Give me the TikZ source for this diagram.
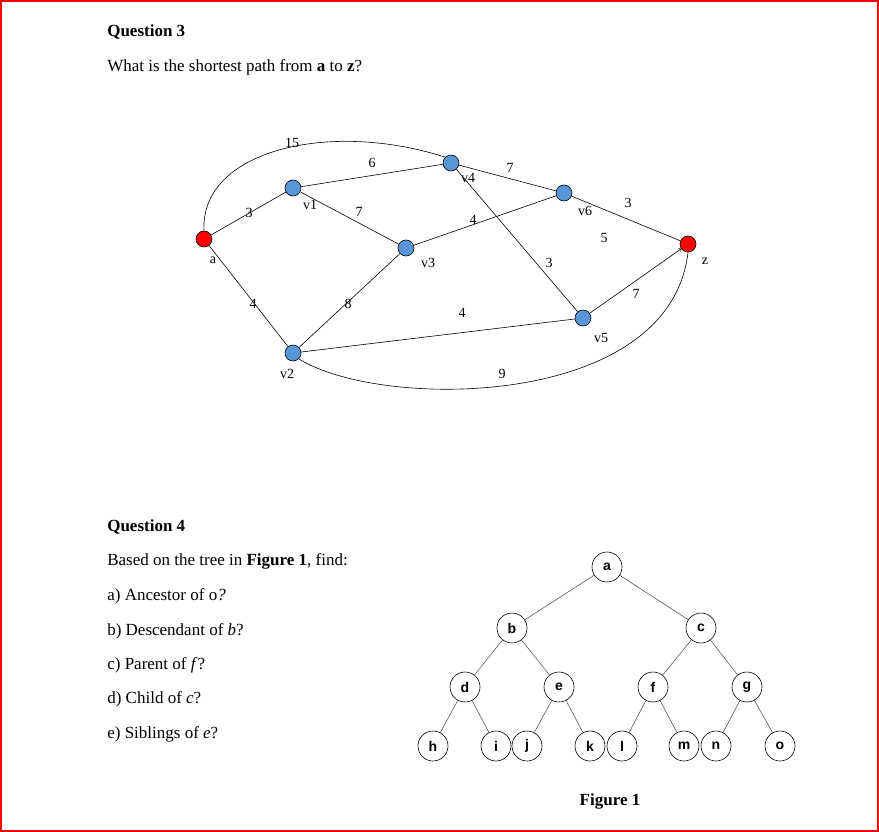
\documentclass[tikz,border=0pt]{standalone}
\usepackage{fontspec}
\setmainfont{Liberation Serif}
\setsansfont{Liberation Sans}
\definecolor{nodeblue}{RGB}{88,150,215}
\begin{document}
\begin{tikzpicture}[x=1pt,y=-1pt,line width=0.6pt,
  gv/.style={circle,draw,fill=nodeblue,minimum size=16pt,inner sep=0pt},
  rv/.style={circle,draw,fill=red,minimum size=16pt,inner sep=0pt},
  tv/.style={circle,draw,minimum size=30pt,inner sep=0pt,font=\sffamily\bfseries\fontsize{14}{14}\selectfont},
  lb/.style={font=\fontsize{14}{14}\selectfont,inner sep=0pt},
  tx/.style={anchor=west,inner sep=0pt,font=\fontsize{17}{17}\selectfont}]
\path[use as bounding box] (0,0) rectangle (879,832);
\draw[red,line width=1.5pt] (1,1) rectangle (878,831);
\node[tx] (q3) at (107,32) {\textbf{Question 3}};
\node[tx] (t3) at (107,67) {What is the shortest path from \textbf{a} to \textbf{z}?};
\node[tx] (q4) at (107,527) {\textbf{Question 4}};
\node[tx] (t4) at (107,561) {Based on the tree in \textbf{Figure 1}, find:};
\node[tx] (qa) at (107,596) {a) Ancestor of o\textit{?}};
\node[tx] (qb) at (107,631) {b) Descendant of \textit{b}?};
\node[tx] (qc) at (107,665) {c) Parent of \textit{f}?};
\node[tx] (qd) at (107,699) {d) Child of \textit{c}?};
\node[tx] (qe) at (107,734) {e) Siblings of \textit{e}?};
\node[tx,anchor=center] (fig) at (610,801) {\textbf{Figure 1}};
% graph
\node[rv] (a) at (204,239) {};
\node[gv] (v1) at (293,188) {};
\node[gv] (v4) at (451,163) {};
\node[gv] (v6) at (564,193) {};
\node[rv] (z) at (688,244) {};
\node[gv] (v3) at (406,248) {};
\node[gv] (v2) at (293,353) {};
\node[gv] (v5) at (583,318) {};
\draw (a) -- (v1); \draw (a) -- (v2); \draw (v1) -- (v4); \draw (v1) -- (v3);
\draw (v4) -- (v6); \draw (v4) -- (v5); \draw (v3) -- (v6); \draw (v3) -- (v2);
\draw (v6) -- (z); \draw (v2) -- (v5); \draw[->] (v5) -- (z);
\draw (a.north) .. controls (200,150) and (330,120) .. (v4.north west);
\draw (v2.south east) .. controls (380,410) and (670,410) .. (z.south);
\foreach \n/\x/\y/\t in {la/213/260/a,l1/310/205/v1,l4/468/178/v4,l6/585/211/v6,lz/705/261/z,l3/428/263/v3,l2/287/374/v2,l5/601/338/v5,
  w1/292/143/15,w2/372/163/6,w3/510/168/7,w4/249/213/3,w5/359/212/7,w6/473/220/4,w7/628/203/3,w8/604/238/5,w9/549/263/3,w10/253/304/4,w11/348/304/8,w12/462/313/4,w13/636/294/7,w14/502/374/9}
  \node[lb] (\n) at (\x,\y) {\t};
% tree
\foreach \n/\x/\y in {a/607/567,b/512/628,c/701/628,d/465/687,e/559/687,f/653/687,g/747/687,h/433/746,i/496/746,j/527/746,k/590/746,l/622/746,m/684/746,n/716/746,o/780/746}
  \node[tv] (t\n) at (\x,\y) {\n};
\foreach \p/\c in {a/b,a/c,b/d,b/e,c/f,c/g,d/h,d/i,e/j,e/k,f/l,f/m,g/n,g/o}
  \draw[gray!70!black] (t\p) -- (t\c);
\end{tikzpicture}
\end{document}
